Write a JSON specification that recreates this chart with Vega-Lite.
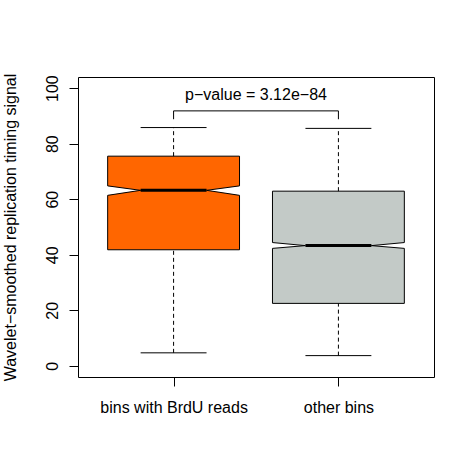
{
  "$schema": "https://vega.github.io/schema/vega-lite/v6.json",
  "width": 356,
  "height": 300,
  "autosize": {"type": "none"},
  "padding": {"left": 78, "top": 77, "right": 40, "bottom": 97},
  "background": "white",
  "config": {
    "view": {"stroke": "black", "strokeWidth": 1},
    "font": "Liberation Sans",
    "axis": {"labelFont": "Liberation Sans", "titleFont": "Liberation Sans"}
  },
  "datasets": {
    "stats": [
      {"group": "bins with BrdU reads", "lower": 4.7, "q1": 41.8, "notchLo": 61.4, "median": 63.2, "notchHi": 64.8, "q3": 75.5, "upper": 85.8},
      {"group": "other bins", "lower": 3.7, "q1": 22.5, "notchLo": 42.3, "median": 43.3, "notchHi": 44.4, "q3": 62.9, "upper": 85.5}
    ],
    "annot": [{"label": "p−value = 3.12e−84"}]
  },
  "layer": [
    {
      "data": {"name": "stats"},
      "transform": [
        {"calculate": "indexof(['bins with BrdU reads','other bins'], datum.group) + 1", "as": "pos"},
        {"fold": ["q1", "notchLo", "median", "notchHi", "q3"], "as": ["stat", "value"]},
        {"calculate": "datum.stat == 'median' ? 0.2 : 0.4", "as": "half"},
        {"calculate": "datum.pos - datum.half", "as": "xl"},
        {"calculate": "datum.pos + datum.half", "as": "xr"}
      ],
      "mark": {"type": "area", "orient": "horizontal", "stroke": "black", "strokeWidth": 1, "opacity": 1, "fillOpacity": 1},
      "encoding": {
        "y": {
          "field": "value", "type": "quantitative",
          "scale": {"domain": [-4, 104], "nice": false, "zero": false},
          "axis": {
            "values": [0, 20, 40, 60, 80, 100],
            "domain": false, "grid": false,
            "ticks": true, "tickSize": 9, "tickColor": "black", "tickWidth": 1,
            "labelAngle": -90, "labelAlign": "center", "labelBaseline": "alphabetic",
            "labelPadding": 12, "labelFontSize": 16, "labelColor": "black",
            "title": "Wavelet−smoothed replication timing signal",
            "titleFontSize": 16, "titleFontWeight": "normal", "titleColor": "black",
            "titlePadding": 26
          }
        },
        "x": {
          "field": "xl", "type": "quantitative",
          "scale": {"domain": [0.42, 2.58], "nice": false, "zero": false},
          "axis": {
            "values": [1, 2],
            "labelExpr": "datum.value == 1 ? 'bins with BrdU reads' : 'other bins'",
            "domain": false, "grid": false,
            "ticks": true, "tickSize": 9, "tickColor": "black", "tickWidth": 1,
            "labelPadding": 13, "labelFontSize": 16, "labelColor": "black",
            "labelFlush": false, "labelOverlap": false,
            "title": null
          }
        },
        "x2": {"field": "xr"},
        "color": {
          "field": "group", "type": "nominal",
          "scale": {"domain": ["bins with BrdU reads", "other bins"], "range": ["#ff6600", "#c3cac7"]},
          "legend": null
        }
      }
    },
    {
      "data": {"name": "stats"},
      "transform": [
        {"calculate": "indexof(['bins with BrdU reads','other bins'], datum.group) + 1", "as": "pos"}
      ],
      "mark": {"type": "rule", "color": "black", "strokeWidth": 1, "strokeDash": [4, 3]},
      "encoding": {
        "x": {"field": "pos", "type": "quantitative"},
        "y": {"field": "q3", "type": "quantitative"},
        "y2": {"field": "upper"}
      }
    },
    {
      "data": {"name": "stats"},
      "transform": [
        {"calculate": "indexof(['bins with BrdU reads','other bins'], datum.group) + 1", "as": "pos"}
      ],
      "mark": {"type": "rule", "color": "black", "strokeWidth": 1, "strokeDash": [4, 3]},
      "encoding": {
        "x": {"field": "pos", "type": "quantitative"},
        "y": {"field": "lower", "type": "quantitative"},
        "y2": {"field": "q1"}
      }
    },
    {
      "data": {"name": "stats"},
      "transform": [
        {"calculate": "indexof(['bins with BrdU reads','other bins'], datum.group) + 1", "as": "pos"},
        {"calculate": "datum.pos - 0.2", "as": "capL"},
        {"calculate": "datum.pos + 0.2", "as": "capR"}
      ],
      "mark": {"type": "rule", "color": "black", "strokeWidth": 1},
      "encoding": {
        "x": {"field": "capL", "type": "quantitative"},
        "x2": {"field": "capR"},
        "y": {"field": "upper", "type": "quantitative"}
      }
    },
    {
      "data": {"name": "stats"},
      "transform": [
        {"calculate": "indexof(['bins with BrdU reads','other bins'], datum.group) + 1", "as": "pos"},
        {"calculate": "datum.pos - 0.2", "as": "capL"},
        {"calculate": "datum.pos + 0.2", "as": "capR"}
      ],
      "mark": {"type": "rule", "color": "black", "strokeWidth": 1},
      "encoding": {
        "x": {"field": "capL", "type": "quantitative"},
        "x2": {"field": "capR"},
        "y": {"field": "lower", "type": "quantitative"}
      }
    },
    {
      "data": {"name": "stats"},
      "transform": [
        {"calculate": "indexof(['bins with BrdU reads','other bins'], datum.group) + 1", "as": "pos"},
        {"calculate": "datum.pos - 0.2", "as": "capL"},
        {"calculate": "datum.pos + 0.2", "as": "capR"}
      ],
      "mark": {"type": "rule", "color": "black", "strokeWidth": 3},
      "encoding": {
        "x": {"field": "capL", "type": "quantitative"},
        "x2": {"field": "capR"},
        "y": {"field": "median", "type": "quantitative"}
      }
    },
    {
      "data": {"name": "stats"},
      "transform": [
        {"calculate": "indexof(['bins with BrdU reads','other bins'], datum.group) + 1", "as": "pos"}
      ],
      "mark": {"type": "rule", "color": "black", "strokeWidth": 1},
      "encoding": {
        "x": {"field": "pos", "type": "quantitative"},
        "y": {"datum": 88.8, "type": "quantitative"},
        "y2": {"datum": 91.8}
      }
    },
    {
      "data": {"name": "annot"},
      "mark": {"type": "rule", "color": "black", "strokeWidth": 1},
      "encoding": {
        "x": {"datum": 1, "type": "quantitative"},
        "x2": {"datum": 2},
        "y": {"datum": 91.8, "type": "quantitative"}
      }
    },
    {
      "data": {"name": "annot"},
      "mark": {"type": "text", "color": "black", "fontSize": 16, "align": "center", "baseline": "alphabetic", "font": "Liberation Sans"},
      "encoding": {
        "x": {"datum": 1.5, "type": "quantitative"},
        "y": {"datum": 95.7, "type": "quantitative"},
        "text": {"field": "label"}
      }
    }
  ]
}
